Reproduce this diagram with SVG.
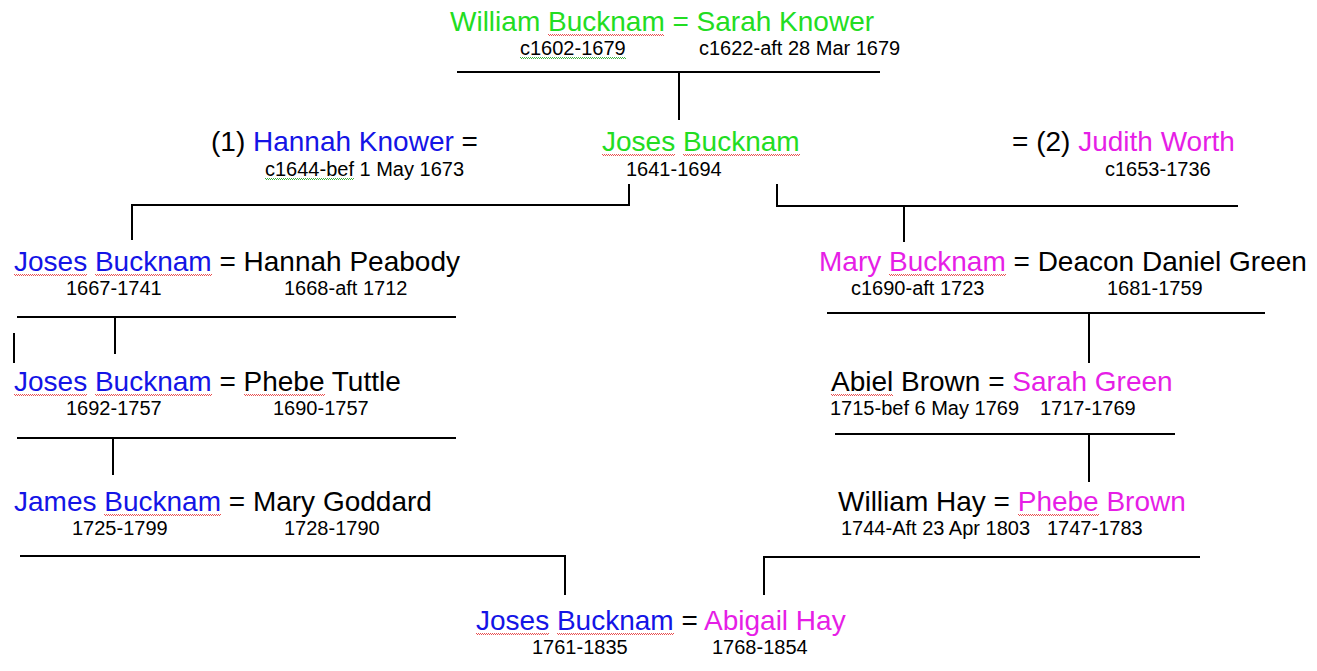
<svg xmlns="http://www.w3.org/2000/svg" width="1317" height="671" viewBox="0 0 1317 671">
<style>
text{font-family:"Liberation Sans",Arial,sans-serif;fill:#000}
.n{font-size:28px}
.d{font-size:20px}
.g{fill:#22dd22}
.b{fill:#1414e6}
.m{fill:#e61ee6}
.k{fill:#000}
.ln{stroke:#000;stroke-width:2;fill:none}
.sr path{stroke:#e85050;stroke-width:1;stroke-dasharray:1 1;fill:none}
.sg path{stroke:#40b040;stroke-width:1;stroke-dasharray:1 1;fill:none}
.o{stroke-dashoffset:1}
</style>
<rect width="1317" height="671" fill="#fff"/>

<g id="connectors" class="ln">
<path d="M457,72 H880 M679,72 V120"/>
<path d="M629,184 V205 H132 V240"/>
<path d="M777,184 V206 H1238 M904,206 V242"/>
<path d="M17,317 H456 M115,317 V354 M14,333 V363"/>
<path d="M17,438 H456 M113,438 V475"/>
<path d="M827,313 H1265 M1089,313 V363"/>
<path d="M835,434 H1175 M1089,434 V482"/>
<path d="M20,556 H565 V595"/>
<path d="M764,595 V557 H1200"/>
</g>

<g id="william-sarah">
<text class="n g" x="450" y="31">William Bucknam = Sarah Knower</text>
<text class="d" x="520" y="55">c1602-1679</text>
<text class="d" x="699" y="55">c1622-aft 28 Mar 1679</text>
</g>
<g id="hannah-knower">
<text class="n" x="211" y="151"><tspan class="k">(1) </tspan><tspan class="b">Hannah Knower</tspan><tspan class="k"> =</tspan></text>
<text class="d" x="265" y="176">c1644-bef 1 May 1673</text>
</g>
<g id="joses-1641">
<text class="n g" x="602" y="151">Joses Bucknam</text>
<text class="d" x="626" y="176">1641-1694</text>
</g>
<g id="judith-worth">
<text class="n" x="1012" y="151"><tspan class="k">= (2) </tspan><tspan class="m">Judith Worth</tspan></text>
<text class="d" x="1105" y="176">c1653-1736</text>
</g>
<g id="joses-hannah">
<text class="n" x="14" y="271"><tspan class="b">Joses Bucknam</tspan><tspan class="k"> = Hannah Peabody</tspan></text>
<text class="d" x="66" y="295">1667-1741</text>
<text class="d" x="284" y="295">1668-aft 1712</text>
</g>
<g id="mary-daniel">
<text class="n" x="819" y="271"><tspan class="m">Mary Bucknam</tspan><tspan class="k"> = Deacon Daniel Green</tspan></text>
<text class="d" x="851" y="295">c1690-aft 1723</text>
<text class="d" x="1107" y="295">1681-1759</text>
</g>
<g id="joses-phebe">
<text class="n" x="14" y="391"><tspan class="b">Joses Bucknam</tspan><tspan class="k"> = Phebe Tuttle</tspan></text>
<text class="d" x="66" y="415">1692-1757</text>
<text class="d" x="273" y="415">1690-1757</text>
</g>
<g id="abiel-sarah">
<text class="n" x="831" y="391"><tspan class="k">Abiel Brown = </tspan><tspan class="m">Sarah Green</tspan></text>
<text class="d" x="830" y="415">1715-bef 6 May 1769</text>
<text class="d" x="1040" y="415">1717-1769</text>
</g>
<g id="james-mary">
<text class="n" x="14" y="511"><tspan class="b">James Bucknam</tspan><tspan class="k"> = Mary Goddard</tspan></text>
<text class="d" x="72" y="535">1725-1799</text>
<text class="d" x="284" y="535">1728-1790</text>
</g>
<g id="william-phebe">
<text class="n" x="838" y="511"><tspan class="k">William Hay = </tspan><tspan class="m">Phebe Brown</tspan></text>
<text class="d" x="841" y="535">1744-Aft 23 Apr 1803</text>
<text class="d" x="1047" y="535">1747-1783</text>
</g>
<g id="joses-abigail">
<text class="n" x="476" y="630"><tspan class="b">Joses Bucknam</tspan><tspan class="k"> = </tspan><tspan class="m">Abigail Hay</tspan></text>
<text class="d" x="532" y="654">1761-1835</text>
<text class="d" x="712" y="654">1768-1854</text>
</g>

<g id="spellcheck-red" class="sr">
<path d="M548,34.5 h116 M602,154.5 h73 M683,154.5 h117 M14,274.5 h73 M95,274.5 h117 M889,274.5 h117 M14,394.5 h73 M95,394.5 h117 M244,394.5 h81 M831,394.5 h62 M104,514.5 h117 M1018,514.5 h81 M476,633.5 h73 M557,633.5 h117"/>
<path class="o" d="M548,35.5 h116 M602,155.5 h73 M683,155.5 h117 M14,275.5 h73 M95,275.5 h117 M889,275.5 h117 M14,395.5 h73 M95,395.5 h117 M244,395.5 h81 M831,395.5 h62 M104,515.5 h117 M1018,515.5 h81 M476,634.5 h73 M557,634.5 h117"/>
</g>
<g id="spellcheck-green" class="sg">
<path d="M520,57.5 h106 M265,178.5 h89"/>
<path class="o" d="M520,58.5 h106 M265,179.5 h89"/>
</g>
</svg>
